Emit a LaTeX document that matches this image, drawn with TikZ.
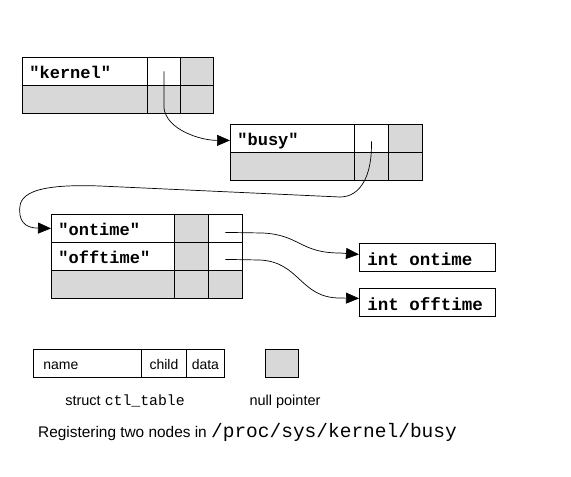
\documentclass[tikz,border=0pt]{standalone}
\usepackage{fontspec}
\setmainfont{Liberation Sans}
\setsansfont{Liberation Sans}
\setmonofont{Liberation Mono}
\usetikzlibrary{arrows.meta}
\definecolor{nullgray}{RGB}{216,216,216}
\newcommand{\msp}{\hspace{0.6em}}
\begin{document}
\begin{tikzpicture}[x=1pt,y=-1pt,
  cellbox/.style={draw=black,line width=0.8pt,anchor=north west,inner sep=0pt,minimum height=28pt},
  nullcell/.style={cellbox,fill=nullgray},
  labelcell/.style={cellbox,align=left,inner xsep=7pt,inner ysep=0pt,text height=21.5pt,text depth=6.5pt,font=\fontsize{17}{20}\selectfont\ttfamily\bfseries},
  intbox/.style={cellbox,align=left,inner xsep=8pt,inner ysep=0pt,text height=21.5pt,text depth=6pt,font=\fontsize{17.5}{20}\selectfont\ttfamily\bfseries},
  legcell/.style={cellbox,inner ysep=0pt,text height=20.5pt,text depth=7.5pt,font=\fontsize{14}{16}\selectfont\sffamily},
  ptr/.style={draw=black,line width=0.7pt,-{Triangle[length=13pt,width=11pt]}},
  legtext/.style={inner sep=0pt,font=\fontsize{14.5}{16}\selectfont\sffamily}]
\useasboundingbox (0,0) rectangle (571,477);
% kernel table
\node[labelcell,text width=111pt] (kn) at (22,57) {"kernel"};
\node[cellbox,minimum width=33pt] (kc) at (147,57) {};
\node[nullcell,minimum width=33pt] (kd) at (180,57) {};
\node[nullcell,minimum width=125pt] (kn2) at (22,85) {};
\node[nullcell,minimum width=33pt] (kc2) at (147,85) {};
\node[nullcell,minimum width=33pt] (kd2) at (180,85) {};
% busy table
\node[labelcell,text width=110pt] (bn) at (230,124) {"busy"};
\node[cellbox,minimum width=34pt] (bc) at (354,124) {};
\node[nullcell,minimum width=34pt] (bd) at (388,124) {};
\node[nullcell,minimum width=124pt] (bn2) at (230,152) {};
\node[nullcell,minimum width=34pt] (bc2) at (354,152) {};
\node[nullcell,minimum width=34pt] (bd2) at (388,152) {};
% ontime/offtime table
\node[labelcell,text width=109pt] (on) at (51,214) {"ontime"};
\node[nullcell,minimum width=34pt] (oc) at (174,214) {};
\node[cellbox,minimum width=34pt] (od) at (208,214) {};
\node[labelcell,text width=109pt] (fn) at (51,242) {"offtime"};
\node[nullcell,minimum width=34pt] (fc) at (174,242) {};
\node[cellbox,minimum width=34pt] (fd) at (208,242) {};
\node[nullcell,minimum width=123pt] (zn) at (51,270) {};
\node[nullcell,minimum width=34pt] (zc) at (174,270) {};
\node[nullcell,minimum width=34pt] (zd) at (208,270) {};
% int boxes
\node[intbox,text width=120pt,text depth=5.5pt] (io) at (359,243) {int\msp ontime};
\node[intbox,text width=120pt] (if) at (359,288) {int\msp offtime};
% legend
\node[legcell,align=left,inner xsep=10pt,text width=88pt] (ln) at (33,349) {name};
\node[legcell,minimum width=45pt] (lc) at (141,349) {child};
\node[legcell,minimum width=38pt] (ld) at (186,349) {data};
\node[nullcell,minimum width=33pt] (lnull) at (265,349) {};
\node[legtext,anchor=base] (lst) at (125,405) {struct\ \texttt{\fontsize{14.8}{16}\selectfont ctl\_table}};
\node[legtext,anchor=base] (lnp) at (285,405) {null pointer};
\node[inner sep=0pt,anchor=base west,font=\fontsize{15.4}{18}\selectfont\sffamily] (cap) at (38,437.5)
  {Registering two nodes in \texttt{\fontsize{19.5}{20}\selectfont /proc/sys/kernel/busy}};
% pointers
\draw[ptr] (kc.center) -- ++(0,36) .. controls +(2,22) and +(-30,0) .. ([yshift=-2pt]bn.west);
\draw[ptr] ([yshift=-3pt]bc.center) .. controls +(1,35) and +(20,0) .. (340,197)
  -- (100,186) .. controls (20,183) and (18,200) .. (20,215) .. controls (22,228) and (35,228) .. (on.west);
\draw[ptr] ([yshift=-4pt]od.center) -- (263,233) .. controls (300,235) and (300,253) .. (340,253) -- ([yshift=3pt]io.west);
\draw[ptr] ([yshift=-3pt]fd.center) -- (260,260) .. controls (300,262) and (300,298) .. (340,298) -- ([yshift=4pt]if.west);
\end{tikzpicture}
\end{document}
